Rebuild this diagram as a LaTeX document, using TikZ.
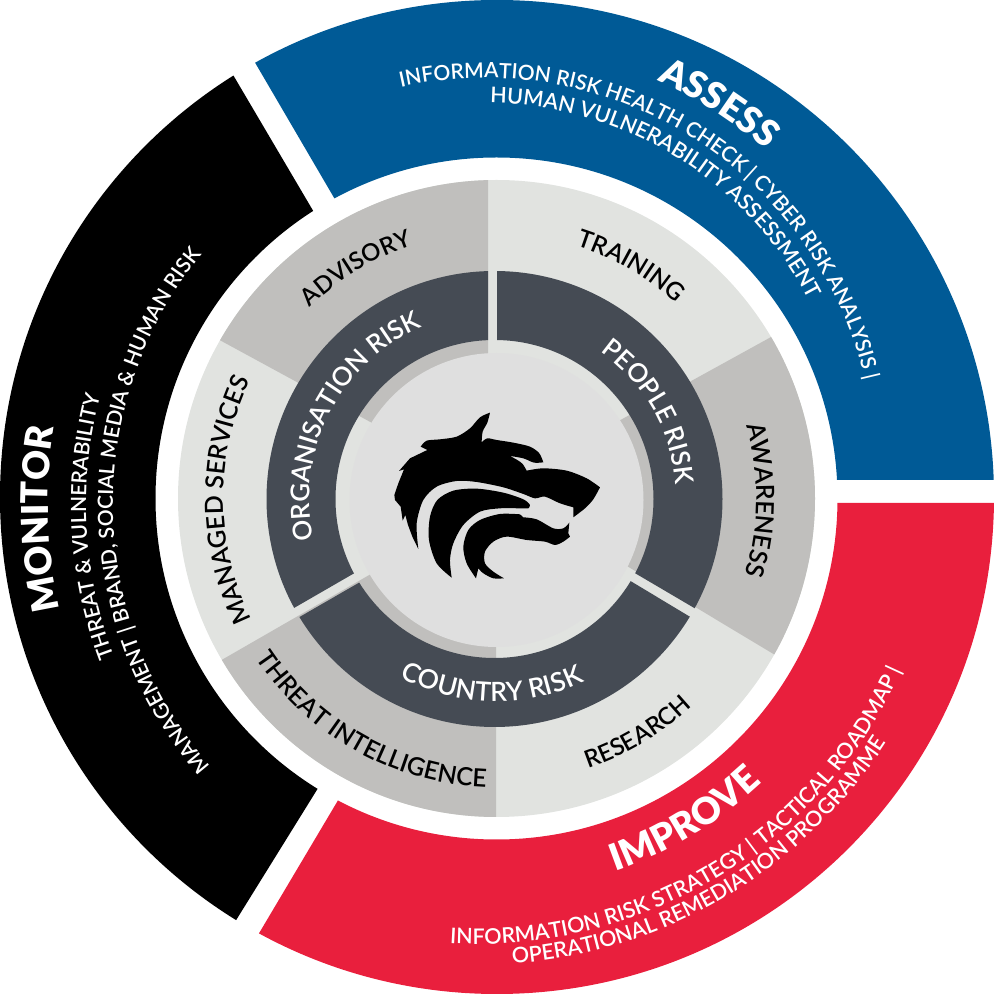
\documentclass[tikz,border=0pt]{standalone}
\usepackage{fontspec}
\usetikzlibrary{decorations.text}
\newfontfamily\lbl{Lato}[UprightFont=* Semibold]
\newfontfamily\ttl{Lato}[UprightFont=* Black]
\definecolor{cblue}{HTML}{005A96}
\definecolor{cred}{HTML}{E91F3D}
\definecolor{clight}{HTML}{E1E3E0}
\definecolor{cgray}{HTML}{C0BFBD}
\definecolor{cdark}{HTML}{454B54}
\definecolor{ccentre}{HTML}{DFDFDF}
\tikzset{img/.style={x=1pt,y=-1pt,shift={(0pt,994pt)}}}
% annulus segment: colour, centre, outer r, inner r, clip polygon
\newcommand\ringseg[5]{\begin{scope}\clip #5 -- cycle;
  \fill[#1,even odd rule] #2 circle[radius=#3] #2 circle[radius=#4];\end{scope}}
% curved text: cx, cy (y up), r, mid angle, half span (signed: + clockwise, - counter), font cmd, size, colour, text
\newcommand\arctext[9]{%
  \pgfmathsetmacro\sa{#4+#5}\pgfmathsetmacro\ea{#4-#5}%
  \path[decorate,decoration={text along path,text align=center,
     text format delimiters={<}{>},
     text={<\color{#8}#6\fontsize{#7}{#7}\selectfont>#9}}]
     (#1,#2) ++(\sa:#3) arc[start angle=\sa,end angle=\ea,radius=#3];}
\begin{document}
\begin{tikzpicture}[x=1pt,y=1pt]
\useasboundingbox (0,0) rectangle (994,994);
\begin{scope}[img]
\coordinate (C) at (496.5,498.5);
\coordinate (O) at (497,497);
\coordinate (D) at (494.5,499);
\coordinate (M) at (496.5,500);
% outer ring
\begin{scope}\clip (499,480) -- (1100,480) -- (1100,-100) -- (160,-100) -- cycle;
 \fill[cblue,even odd rule] (O) circle[radius=497] (C) circle[radius=341];\end{scope}
\begin{scope}\clip (490,511) -- (130,-100) -- (-100,-100) -- (-100,1100) -- (124.5,1100) -- cycle;
 \fill[black,even odd rule] (O) circle[radius=497] (C) circle[radius=341];\end{scope}
\begin{scope}\clip (514.6,503) -- (1100,503) -- (1100,1100) -- (160,1100) -- cycle;
 \fill[cred,even odd rule] (O) circle[radius=497] (C) circle[radius=341];\end{scope}
% middle disc and grey wedges
\fill[clight] (C) circle[radius=318.5];
\begin{scope}\clip (C) circle[radius=318.5];
 \fill[cgray] (488,486) -- (488,100) -- (100,100) -- (100,275) -- cycle;
 \fill[cgray] (497,488) -- (900,266) -- (900,730) -- cycle;
 \fill[cgray] (496,502) -- (496,900) -- (100,900) -- (100,730) -- cycle;
\end{scope}
% dark ring
\ringseg{cdark}{(D)}{228}{159}{(488,496) -- (488,100) -- (100,100) -- (100,720)}
\ringseg{cdark}{(D)}{228}{159}{(497,492) -- (497,100) -- (900,100) -- (900,729)}
\ringseg{cdark}{(D)}{228}{159}{(499,502) -- (100,732) -- (100,900) -- (900,900) -- (900,743)}
% centre
\fill[ccentre] (M) circle[radius=147];
% wolf
\begin{scope}[x=0.3333pt,y=-0.3333pt,shift={(380pt,-400pt)}]
\fill[black] plot[smooth,tension=.5] coordinates {(330,38)(322,68)(308,95)(305,127)}
 -- plot[smooth,tension=.5] coordinates {(305,127)(322,115)(350,120)(400,128)(450,140)(478,160)(490,187)}
 -- plot[smooth,tension=.5] coordinates {(490,187)(462,188)(430,175)(390,168)}
 -- plot[smooth,tension=.5] coordinates {(390,168)(412,180)(428,192)(440,212)}
 -- plot[smooth,tension=.5] coordinates {(440,212)(490,205)(560,212)(620,235)(660,262)}
 -- plot[smooth,tension=.5] coordinates {(660,262)(640,298)(615,325)(580,352)}
 -- (580,322)
 -- plot[smooth,tension=.5] coordinates {(580,322)(540,310)(495,290)(465,295)(430,282)(370,262)(290,246)(230,243)(170,260)(130,300)(110,370)(115,447)}
 -- (97,410) -- (84,375) -- (76,345) -- (68,362) -- (62,320) -- (45,300) -- (43,285) -- (55,250) -- (72,208) -- (57,213)
 -- (90,175) -- (142,150) -- (122,140)
 -- plot[smooth,tension=.5] coordinates {(122,140)(140,122)(180,118)(230,110)(270,85)(300,52)(330,38)} -- cycle;
\fill[black] plot[smooth,tension=.5] coordinates {(215,533)(170,490)(147,420)(150,350)(172,300)(220,272)(290,266)(370,278)(430,298)(450,315)(445,325)}
 -- plot[smooth,tension=.5] coordinates {(445,325)(420,325)(360,325)(300,335)(250,375)(220,430)(210,480)(215,533)} -- cycle;
\fill[black] plot[smooth,tension=.5] coordinates {(288,535)(260,490)(250,440)(265,390)(300,360)(360,342)(420,343)}
 -- (430,352) -- plot[smooth,tension=.5] coordinates {(430,352)(470,358)(520,385)(550,385)(568,368)}
 -- (565,400) -- (570,410) -- plot[smooth,tension=.5] coordinates {(570,410)(550,425)(525,435)(495,425)(440,420)(380,410)(340,425)(315,455)(315,490)(340,515)(372,535)}
 -- plot[smooth,tension=.5] coordinates {(372,535)(340,535)(310,520)(295,505)} -- cycle;
\end{scope}
\end{scope}
% assess (centre 485,468 -> y up 526)
\arctext{485}{526}{424}{57.3}{30}{\ttl}{37}{white}{ASSESS}
\arctext{485}{526}{390}{57.7}{60}{\lbl}{21}{white}{INFORMATION RISK HEALTH CHECK | CYBER RISK ANALYSIS |}
\arctext{485}{526}{365}{58.3}{50}{\lbl}{21.5}{white}{HUMAN VULNERABILITY ASSESSMENT}
% improve
\arctext{477}{517}{418}{-58.8}{-30}{\ttl}{37}{white}{IMPROVE}
\arctext{477}{517}{467}{-58.9}{-50}{\lbl}{21.5}{white}{INFORMATION RISK STRATEGY | TACTICAL ROADMAP |}
\arctext{477}{517}{488}{-59.4}{-40}{\lbl}{21.5}{white}{OPERATIONAL REMEDIATION PROGRAMME}
% monitor
\arctext{511}{489}{463}{181.7}{20}{\ttl}{37}{white}{MONITOR}
\arctext{511}{489}{425}{183}{30}{\lbl}{21}{white}{THREAT {\&} VULNERABILITY}
\arctext{511}{489}{398}{181}{60}{\lbl}{21}{white}{MANAGEMENT | BRAND, SOCIAL MEDIA {\&} HUMAN RISK}
% sector labels
\arctext{496.5}{495.5}{265}{60}{20}{\lbl}{24.5}{black}{TRAINING}
\arctext{496.5}{495.5}{267}{121.3}{25}{\lbl}{24}{black}{ADVISORY}
\arctext{496.5}{495.5}{260}{-0.3}{25}{\lbl}{25}{black}{AWARENESS}
\arctext{496.5}{495.5}{285}{-59}{-20}{\lbl}{24}{black}{RESEARCH}
\arctext{496.5}{495.5}{289}{-119.25}{-40}{\lbl}{25}{black}{THREAT INTELLIGENCE}
\arctext{496.5}{495.5}{273}{180.4}{40}{\lbl}{25}{black}{MANAGED SERVICES}
% dark ring labels
\arctext{496.5}{495.5}{187}{153}{60}{\lbl}{26}{white}{ORGANISATION RISK}
\arctext{496.5}{495.5}{180}{29.6}{50}{\lbl}{26}{white}{PEOPLE RISK}
\arctext{496.5}{495.5}{203}{-91.4}{-40}{\lbl}{26.5}{white}{COUNTRY RISK}
\end{tikzpicture}
\end{document}
